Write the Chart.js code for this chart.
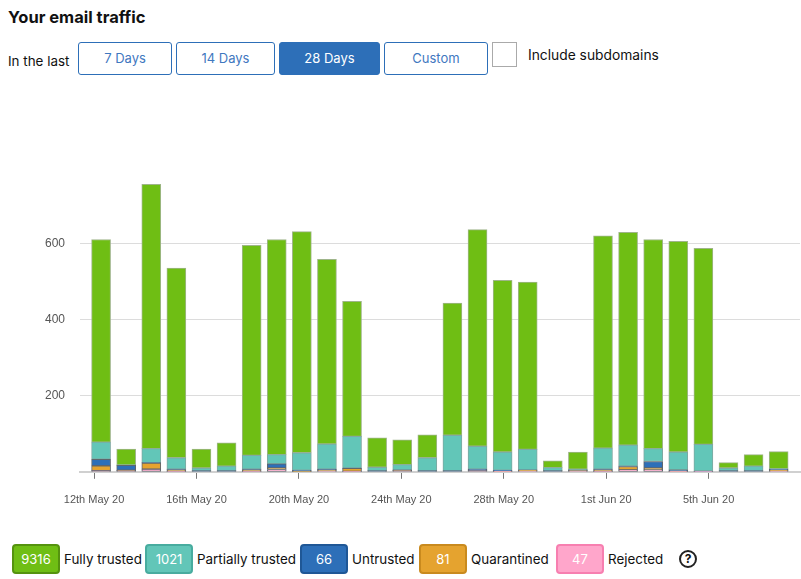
<!DOCTYPE html>
<html>
<head>
<meta charset="utf-8">
<title>Your email traffic</title>
<script src="https://cdn.jsdelivr.net/npm/chart.js@4/dist/chart.umd.min.js"></script>
<style>
html, body { margin: 0; padding: 0; background: #fff; }
body { position: relative; width: 801px; height: 579px; overflow: hidden; font-family: Inter, "Open Sans", sans-serif; color: #111; }
h1 { position: absolute; left: 8px; top: 7px; margin: 0; font-size: 16.5px; line-height: 20px; font-weight: 700; }
.lbl { position: absolute; font-size: 13.4px; line-height: 18px; white-space: nowrap; }
.btn { position: absolute; top: 42px; height: 33px; box-sizing: border-box; border: 1px solid #2d6fb8; border-radius: 3px; color: #3f78bf; font-size: 13px; line-height: 31px; text-align: center; }
.btn.on { background: #2d6fb8; color: #fff; line-height: 30px; }
#check { position: absolute; left: 492px; top: 42px; width: 25px; height: 25px; box-sizing: border-box; border: 1px solid #aaa; }
#wrap { position: absolute; left: 0; top: 145px; width: 801px; height: 377px; }
.chip { position: absolute; top: 544px; width: 48px; height: 30px; box-sizing: border-box; border: 2px solid; border-radius: 4px; color: #fff; font-size: 13px; line-height: 26px; text-align: center; }
#help { position: absolute; left: 679px; top: 550px; width: 18px; height: 18px; box-sizing: border-box; border: 2px solid #222; border-radius: 50%; font-size: 12px; font-weight: 700; line-height: 14px; text-align: center; }
</style>
</head>
<body>
<h1>Your email traffic</h1>
<div class="lbl" style="left:8px;top:52px">In the last</div>
<div class="btn" style="left:78px;width:94px">7 Days</div>
<div class="btn" style="left:176px;width:99px">14 Days</div>
<div class="btn on" style="left:279px;width:101px">28 Days</div>
<div class="btn" style="left:384px;width:104px">Custom</div>
<div id="check"></div>
<div class="lbl" style="left:528px;top:46px;font-size:13.8px">Include subdomains</div>
<div id="wrap"><canvas id="traffic-chart"></canvas></div>
<div id="legend"></div>
<div id="help">?</div>

<script>
// valores, um por dia (12 May - 8 Jun)
const days = [];
for (let i = 0; i < 28; i++) days.push(i);

const rejected    = [3, 3, 7, 1, 0, 0, 1, 6, 0, 2, 1, 0, 3, 0, 0, 3, 1, 2, 0, 2, 1, 5, 5, 1, 1, 0, 0, 2];
const quarantined = [13, 1, 16, 5, 0, 0, 5, 4, 1, 3, 8, 0, 1, 0, 0, 0, 1, 2, 0, 1, 5, 9, 5, 1, 0, 0, 0, 2];
const untrusted   = [17, 13, 1, 1, 3, 3, 1, 11, 3, 2, 1, 3, 1, 3, 3, 4, 2, 1, 3, 2, 1, 1, 17, 3, 1, 3, 3, 3];
const partially   = [45, 1, 37, 30, 7, 12, 36, 24, 46, 66, 83, 9, 14, 34, 93, 60, 48, 54, 8, 2, 55, 55, 34, 47, 70, 7, 12, 1];
const fully       = [532, 42, 694, 498, 50, 61, 552, 565, 581, 485, 355, 77, 65, 60, 347, 569, 451, 439, 18, 45, 558, 559, 549, 553, 515, 14, 30, 45];

const tickDays   = [0, 4, 8, 12, 16, 20, 24];
const tickLabels = ['12th May 20', '16th May 20', '20th May 20', '24th May 20', '28th May 20', '1st Jun 20', '5th Jun 20'];
const yTicks     = [0, 200, 400, 600];

const legendNames  = ['Fully trusted', 'Partially trusted', 'Untrusted', 'Quarantined', 'Rejected'];
const legendTotals = ['9316', '1021', '66', '81', '47'];
const legendFill   = ['#6fbe14', '#62c6b8', '#2d6fb8', '#e5a32f', '#ffa6cb'];
const legendEdge   = ['#55930f', '#48ac9f', '#1f5796', '#c98a1e', '#f77fb0'];
const barEdge      = ['#9fb58a', '#7fa8a2', '#5f666c', '#5f666c', '#5f666c'];
const chipLeft     = [12, 145, 300, 419, 556];

// legenda em html
const legendBox = document.getElementById('legend');
legendNames.forEach((name, i) => {
    const chip = document.createElement('div');
    chip.className = 'chip';
    chip.style.left = chipLeft[i] + 'px';
    chip.style.background = legendFill[i];
    chip.style.borderColor = legendEdge[i];
    chip.textContent = legendTotals[i];
    legendBox.appendChild(chip);
    const text = document.createElement('div');
    text.className = 'lbl';
    text.style.left = (chipLeft[i] + 52) + 'px';
    text.style.top = '550px';
    text.textContent = name;
    legendBox.appendChild(text);
});

function serie(values, name) {
    const i = legendNames.indexOf(name);
    return {
        label: name,
        data: values.map((v, d) => ({ x: days[d], y: v })),
        backgroundColor: legendFill[i],
        borderColor: barEdge[i],
        borderWidth: 1,
        borderSkipped: false,
        clip: false,
        barThickness: 19,
        xAxisID: 'x',
        yAxisID: 'y'
    };
}

const chart = new Chart(document.getElementById('traffic-chart').getContext('2d'), {
    type: 'bar',
    data: {
        datasets: [
            serie(rejected, 'Rejected'),
            serie(quarantined, 'Quarantined'),
            serie(untrusted, 'Untrusted'),
            serie(partially, 'Partially trusted'),
            serie(fully, 'Fully trusted')
        ]
    },
    options: {
        responsive: true,
        maintainAspectRatio: false,
        animation: false,
        layout: { padding: { left: 0, right: 1, top: 0, bottom: 0 } },
        plugins: { legend: { display: false }, tooltip: { enabled: false } },
        scales: {
            // eixo das barras, escondido
            x: {
                type: 'linear',
                stacked: true,
                display: false,
                min: -0.84,
                max: 27.85,
                offset: false,
                grid: { offset: false }
            },
            // eixo das datas, o passo dele nao coincide com o das barras no original
            dates: {
                type: 'linear',
                position: 'bottom',
                min: -0.55,
                max: 27.57,
                offset: false,
                afterBuildTicks: axis => { axis.ticks = tickDays.map(v => ({ value: v })); },
                grid: { offset: false, drawOnChartArea: false, drawTicks: true, tickLength: 7, tickColor: '#777', color: '#777' },
                border: { color: '#d0d0d0', width: 2 },
                ticks: {
                    color: '#555',
                    font: { family: 'Liberation Sans', size: 11 },
                    padding: 15,
                    maxRotation: 0,
                    autoSkip: false,
                    callback: value => tickLabels[tickDays.indexOf(value)]
                }
            },
            y: {
                stacked: true,
                min: 0,
                max: 800,
                offset: false,
                afterBuildTicks: axis => { axis.ticks = yTicks.map(v => ({ value: v })); },
                afterFit: axis => { axis.width = 80; },
                grid: { offset: false, color: '#dcdcdc', drawTicks: false },
                border: { display: false },
                ticks: {
                    color: '#555',
                    font: { family: 'Liberation Sans', size: 12 },
                    padding: 15,
                    callback: value => value === 0 ? '' : value
                }
            }
        }
    }
});
</script>
</body>
</html>
